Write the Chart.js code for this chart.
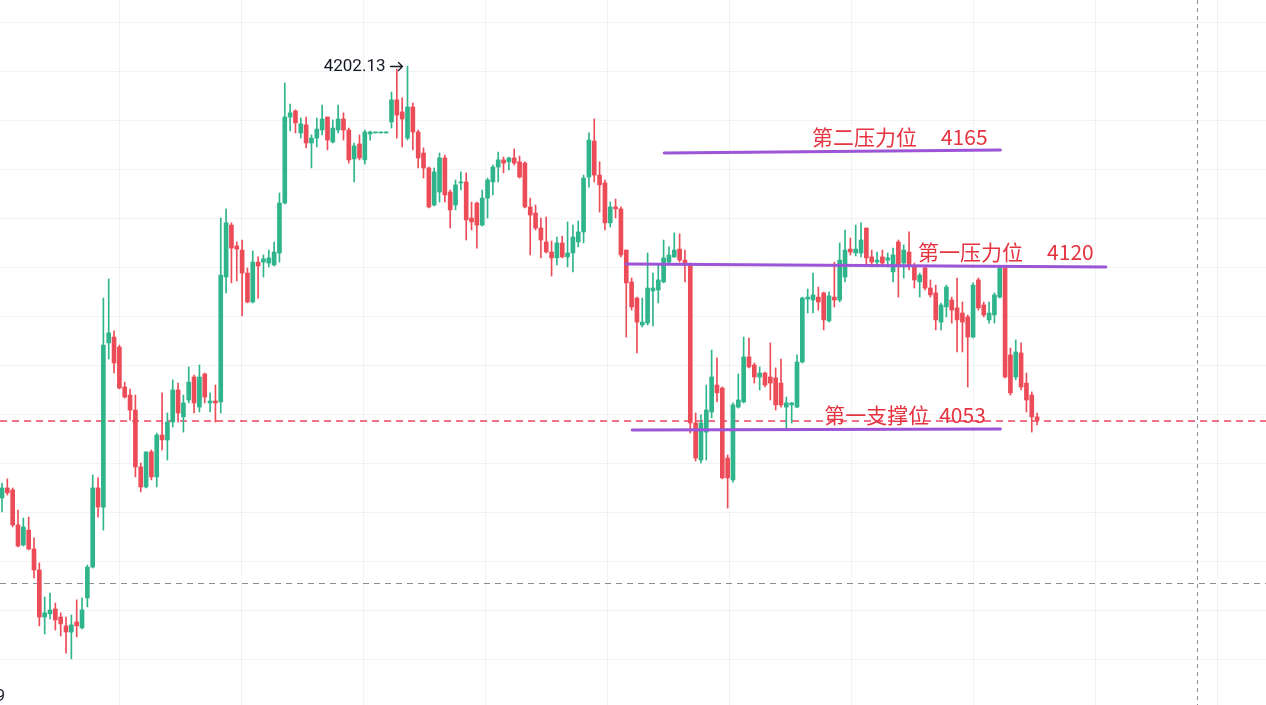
<!DOCTYPE html>
<html>
<head>
<meta charset="utf-8">
<script src="https://cdn.jsdelivr.net/npm/chart.js@4.4.1/dist/chart.umd.min.js"></script>
<style>
  html, body { margin: 0; padding: 0; background: #fff; overflow: hidden; }
  canvas { display: block; }
</style>
</head>
<body>
<canvas id="chart" width="1266" height="705"></canvas>
<script>
// candles, oldest first
const opens = [4025.8,4029.9,4029.1,4014.8,4006.6,4012.7,4005.0,3996.4,3977.2,3978.5,3980.5,3977.2,3973.6,3971.1,3975.2,3972.8,3985.0,3997.6,4029.9,4022.1,
  4089.1,4091.5,4087.4,4071.1,4067.8,4061.7,4038.5,4030.3,4044.6,4034.4,4051.5,4049.5,4056.8,4069.9,4058.9,4065.8,4075.2,4062.9,4076.4,4064.6,
  4065.4,4065.0,4116.0,4137.2,4128.7,4127.0,4117.6,4105.8,4122.1,4122.1,4121.7,4120.9,4125.8,4146.2,4181.3,4183.8,4174.8,4178.1,4170.7,4172.7,
  4176.0,4181.3,4171.1,4176.0,4180.5,4176.0,4164.2,4170.3,4163.8,4174.4,4174.8,4174.8,4174.8,4179.3,4188.3,4183.4,4172.7,4185.4,4175.2,4166.6,
  4160.5,4145.4,4150.7,4164.6,4150.7,4145.4,4154.4,4154.8,4140.1,4146.2,4137.2,4148.2,4154.8,4160.9,4163.8,4163.0,4164.6,4163.0,4162.5,4144.6,
  4142.1,4136.0,4130.3,4126.2,4123.8,4129.9,4124.2,4125.8,4130.3,4134.4,4156.8,4171.5,4157.6,4154.4,4138.1,4144.6,4143.8,4127.0,4114.0,4107.4,
  4096.4,4097.2,4110.3,4110.7,4114.0,4122.1,4124.2,4127.4,4122.9,4120.9,4056.4,4041.3,4052.7,4060.9,4071.9,4070.7,4042.1,4033.2,4062.9,4065.0,
  4083.4,4080.1,4075.2,4076.8,4075.2,4074.8,4072.7,4062.9,4063.8,4062.9,4081.3,4107.0,4106.6,4107.8,4109.5,4098.1,4107.8,4106.6,4116.0,4127.4,
  4125.8,4125.8,4136.0,4124.2,4122.1,4124.2,4122.9,4118.1,4130.3,4121.7,4126.2,4120.1,4114.0,4119.7,4111.5,4109.5,4097.6,4103.8,4106.6,4103.4,
  4101.3,4099.7,4091.5,4114.8,4104.6,4098.5,4100.5,4107.8,4119.7,4084.2,4075.2,4085.0,4072.7,4067.8,4058.9];
const highs = [4031.9,4033.6,4029.9,4020.9,4017.6,4018.0,4009.5,3999.3,3985.4,3987.0,3982.9,3978.9,3977.2,3978.0,3984.2,3985.0,3998.4,4035.2,4034.0,4107.4,
  4115.2,4094.0,4088.2,4073.1,4070.3,4067.8,4040.1,4044.6,4045.4,4052.3,4068.7,4060.5,4074.0,4072.7,4067.8,4079.3,4076.0,4080.1,4076.8,4068.7,
  4071.9,4140.1,4143.8,4138.1,4130.3,4131.1,4119.7,4126.6,4124.2,4125.0,4127.0,4130.3,4150.3,4195.2,4186.6,4184.2,4180.9,4181.3,4174.0,4180.9,
  4186.2,4181.3,4180.1,4186.2,4183.0,4176.8,4170.7,4174.0,4176.0,4175.6,4174.8,4174.8,4174.8,4191.5,4200.9,4189.1,4202.13,4187.0,4176.0,4168.7,
  4160.9,4160.5,4166.6,4165.8,4151.5,4155.6,4158.9,4158.5,4146.6,4146.6,4151.5,4156.4,4161.7,4167.0,4165.0,4165.0,4168.3,4165.4,4163.0,4148.2,
  4145.4,4140.1,4140.5,4130.7,4132.3,4132.7,4138.5,4137.2,4138.9,4157.6,4174.8,4180.5,4163.0,4155.6,4146.6,4147.8,4144.6,4127.0,4115.6,4107.8,
  4107.4,4125.8,4117.6,4120.9,4131.1,4128.3,4134.0,4133.6,4127.0,4121.7,4060.5,4059.7,4071.9,4086.2,4083.0,4071.1,4043.4,4064.6,4076.4,4091.5,
  4091.1,4080.9,4079.3,4077.2,4089.1,4078.9,4082.5,4067.0,4064.8,4084.2,4107.8,4111.1,4117.6,4111.9,4109.9,4109.9,4122.1,4129.9,4135.2,4131.9,
  4137.2,4138.1,4136.0,4127.0,4126.2,4127.0,4125.8,4127.8,4131.1,4129.1,4134.4,4121.7,4117.6,4120.1,4114.8,4112.7,4105.4,4112.7,4107.8,4115.6,
  4105.8,4100.5,4113.6,4115.6,4105.8,4105.8,4109.5,4120.1,4120.1,4087.0,4090.3,4089.1,4076.8,4069.1,4060.5];
const lows = [4020.1,4027.0,4014.0,4005.8,4006.2,4004.6,3993.2,3973.6,3970.3,3976.4,3971.9,3969.5,3962.5,3960.1,3969.1,3972.4,3981.3,3997.2,4018.0,4012.7,
  4082.5,4076.8,4070.3,4066.6,4057.6,4034.4,4028.3,4029.9,4033.2,4030.3,4045.4,4041.3,4054.8,4056.8,4052.7,4064.6,4060.5,4060.9,4064.6,4060.9,
  4056.8,4060.5,4109.5,4113.6,4114.4,4100.1,4105.4,4105.4,4107.4,4116.0,4120.1,4120.5,4122.1,4145.8,4175.6,4174.8,4172.7,4168.7,4160.5,4169.1,
  4174.0,4167.9,4170.7,4174.8,4171.9,4162.5,4154.8,4163.8,4162.1,4171.9,4174.8,4174.8,4174.8,4176.8,4172.7,4169.1,4171.9,4167.9,4160.5,4156.4,
  4144.2,4145.0,4146.6,4146.6,4136.0,4143.4,4151.5,4131.1,4135.2,4127.8,4136.8,4140.1,4149.5,4154.8,4158.5,4159.7,4161.7,4156.4,4144.2,4125.0,
  4135.2,4123.8,4125.8,4116.4,4120.9,4123.8,4120.1,4118.1,4128.3,4129.9,4152.7,4154.8,4142.5,4135.2,4136.4,4140.1,4124.2,4091.5,4102.5,4085.0,
  4095.6,4096.4,4096.0,4105.4,4113.6,4121.7,4124.0,4122.1,4114.0,4052.3,4040.9,4040.1,4041.3,4058.5,4065.0,4033.6,4021.7,4032.3,4062.5,4064.6,
  4078.9,4072.7,4069.9,4071.1,4065.8,4061.7,4062.9,4054.4,4056.4,4062.7,4080.9,4101.3,4101.3,4102.5,4094.4,4097.6,4103.8,4105.8,4114.0,4125.0,
  4124.6,4124.2,4120.9,4120.1,4120.1,4120.9,4120.1,4114.0,4107.8,4115.6,4118.9,4111.5,4107.8,4110.7,4107.8,4094.4,4094.4,4099.7,4097.2,4085.4,
  4085.4,4071.1,4091.1,4102.5,4099.7,4097.2,4097.2,4107.4,4074.8,4067.8,4074.0,4069.9,4060.9,4052.7,4055.6];
const closes = [4029.9,4027.9,4014.8,4006.2,4014.0,4005.0,3996.4,3977.2,3978.9,3980.1,3976.0,3974.4,3971.1,3974.0,3973.6,3980.1,3997.6,4029.9,4022.1,4088.2,
  4093.2,4080.9,4070.7,4067.0,4061.7,4038.5,4030.3,4044.6,4034.4,4051.5,4049.5,4056.8,4069.9,4060.5,4064.6,4073.1,4064.6,4075.2,4067.0,4065.4,
  4064.6,4116.8,4138.1,4127.8,4127.4,4117.6,4105.8,4122.1,4120.5,4123.4,4123.8,4126.2,4146.2,4181.3,4183.0,4178.9,4178.5,4170.7,4172.7,4176.4,
  4180.5,4171.9,4176.8,4180.5,4176.0,4163.8,4169.5,4164.6,4175.2,4175.2,4174.8,4174.8,4174.8,4188.3,4182.1,4180.5,4185.4,4175.2,4164.6,4160.5,
  4144.6,4158.9,4164.6,4149.5,4143.4,4153.6,4154.8,4139.3,4138.5,4137.2,4148.2,4155.6,4160.9,4163.8,4162.5,4164.6,4162.5,4156.8,4144.6,4141.3,
  4136.0,4131.1,4126.2,4123.8,4129.9,4124.2,4125.8,4132.3,4134.4,4156.4,4171.9,4157.6,4153.6,4138.1,4144.6,4143.8,4125.0,4113.6,4103.8,4097.6,
  4097.6,4111.5,4111.5,4114.8,4123.8,4125.0,4127.0,4122.9,4120.9,4056.4,4042.1,4056.4,4061.7,4075.2,4068.7,4034.0,4034.0,4063.8,4065.8,4083.4,
  4079.3,4075.2,4076.8,4071.9,4072.7,4063.8,4063.8,4064.6,4064.6,4081.3,4107.4,4107.8,4108.7,4105.8,4098.5,4108.3,4106.6,4122.9,4127.0,4126.2,
  4127.4,4131.1,4123.8,4122.1,4122.9,4121.7,4123.8,4125.0,4120.9,4127.0,4120.9,4114.8,4116.8,4111.5,4108.7,4098.5,4104.6,4111.9,4102.5,4098.5,
  4097.6,4091.5,4112.7,4103.4,4100.5,4101.3,4108.7,4119.7,4075.2,4068.7,4085.4,4071.1,4065.8,4058.9,4057.6];

// price grid / reference lines
const priceTicks = [3960, 3980, 4000, 4020, 4040, 4060, 4080, 4100, 4120, 4140, 4160, 4180, 4200, 4220];
const lastPrice = 4057.2;
const crossPrice = 3991.1;
const crossIndex = 224;

// hand drawn levels
const levelNames = ['第二压力位', '第一压力位', '第一支撑位'];
const levelValues = ['4165', '4120', '4053'];
const levelFromIdx = [124.1, 117.0, 118.1];
const levelToIdx = [187.1, 206.9, 187.1];
const levelFromPrice = [4166.6, 4121.3, 4053.6];
const levelToPrice = [4167.8, 4120.1, 4054.0];
const labelIdx = [151.8, 171.7, 154.1];
const labelPrice = [4173.2, 4126.2, 4059.7];

const UP = '#2fb48c';
const DOWN = '#ec4c58';
const colors = opens.map((o, i) => closes[i] >= o ? UP : DOWN);

const overlay = {
  id: 'overlay',
  beforeDatasetsDraw(chart) {
    const { ctx, chartArea: a, scales: { x, y } } = chart;
    ctx.save();
    ctx.lineWidth = 1;
    ctx.strokeStyle = 'rgba(42,46,57,0.06)';
    priceTicks.forEach(v => {
      const py = Math.round(y.getPixelForValue(v)) + 0.5;
      ctx.beginPath(); ctx.moveTo(a.left, py); ctx.lineTo(a.right, py); ctx.stroke();
    });
    // time grid every ~23 bars
    for (let t = 21.9; t < x.max; t += 22.87) {
      const px = Math.round(x.getPixelForValue(t)) + 0.5;
      ctx.beginPath(); ctx.moveTo(px, a.top); ctx.lineTo(px, a.bottom); ctx.stroke();
    }
    // crosshair
    ctx.setLineDash([6, 5]);
    ctx.strokeStyle = '#8a8d94';
    let py = Math.round(y.getPixelForValue(crossPrice)) + 0.5;
    ctx.beginPath(); ctx.moveTo(a.left, py); ctx.lineTo(a.right, py); ctx.stroke();
    ctx.setLineDash([4, 4]);
    const cx = Math.round(x.getPixelForValue(crossIndex)) + 0.5;
    ctx.beginPath(); ctx.moveTo(cx, a.top); ctx.lineTo(cx, a.bottom); ctx.stroke();
    // last price
    ctx.setLineDash([7, 5]);
    ctx.lineWidth = 1.6;
    ctx.strokeStyle = 'rgb(240, 66, 96)';
    py = Math.round(y.getPixelForValue(lastPrice));
    ctx.beginPath(); ctx.moveTo(a.left, py); ctx.lineTo(a.right, py); ctx.stroke();
    ctx.restore();
  },
  afterDatasetsDraw(chart) {
    const { ctx, scales: { x, y } } = chart;
    ctx.save();
    // level lines
    ctx.strokeStyle = '#9b55d6';
    ctx.lineWidth = 3;
    ctx.lineCap = 'round';
    levelNames.forEach((n, i) => {
      ctx.beginPath();
      ctx.moveTo(x.getPixelForValue(levelFromIdx[i]), y.getPixelForValue(levelFromPrice[i]));
      ctx.lineTo(x.getPixelForValue(levelToIdx[i]), y.getPixelForValue(levelToPrice[i]));
      ctx.stroke();
    });
    // level labels
    ctx.fillStyle = '#e5333f';
    ctx.font = '21px "Noto Sans CJK SC", "Noto Sans", sans-serif';
    ctx.textBaseline = 'middle';
    ctx.textAlign = 'left';
    levelNames.forEach((n, i) => {
      const lx = x.getPixelForValue(labelIdx[i]);
      const ly = y.getPixelForValue(labelPrice[i]);
      ctx.fillText(n, lx, ly);
      const gap = i === 2 ? 10 : 24;
      ctx.fillText(levelValues[i], lx + ctx.measureText(n).width + gap, ly);
    });
    // max marker
    let hi = 0;
    highs.forEach((h, i) => { if (h > highs[hi]) hi = i; });
    const mx = x.getPixelForValue(hi);
    const my = Math.round(y.getPixelForValue(highs[hi])) + 0.5;
    ctx.fillStyle = '#131722';
    ctx.strokeStyle = '#131722';
    ctx.lineWidth = 1.3;
    ctx.font = '17px Roboto, "Noto Sans", sans-serif';
    ctx.textAlign = 'right';
    ctx.fillText(highs[hi].toFixed(2), mx - 22, my);
    ctx.beginPath();
    ctx.moveTo(mx - 17, my); ctx.lineTo(mx - 5, my);
    ctx.moveTo(mx - 9, my - 4); ctx.lineTo(mx - 5, my); ctx.lineTo(mx - 9, my + 4);
    ctx.stroke();
    // cut off time label in the corner
    ctx.textAlign = 'left';
    ctx.font = '16px Roboto, sans-serif';
    ctx.fillText('9', -4, 697);
    ctx.restore();
  }
};

new Chart(document.getElementById('chart'), {
  type: 'bar',
  data: {
    datasets: [
      {
        data: opens.map((o, i) => ({ x: i, y: [o, closes[i]] })),
        backgroundColor: colors,
        barThickness: 4,
        minBarLength: 1,
        grouped: false
      },
      {
        data: lows.map((l, i) => ({ x: i, y: [l, highs[i]] })),
        backgroundColor: colors,
        barThickness: 1,
        minBarLength: 1,
        grouped: false
      }
    ]
  },
  options: {
    responsive: false,
    animation: false,
    devicePixelRatio: 1,
    layout: { padding: 0 },
    plugins: { legend: { display: false }, tooltip: { enabled: false } },
    scales: {
      x: { type: 'linear', min: -0.375, max: 236.9, offset: false, display: false },
      y: { min: 3941.3, max: 4229.07, display: false }
    }
  },
  plugins: [overlay]
});
</script>
</body>
</html>
